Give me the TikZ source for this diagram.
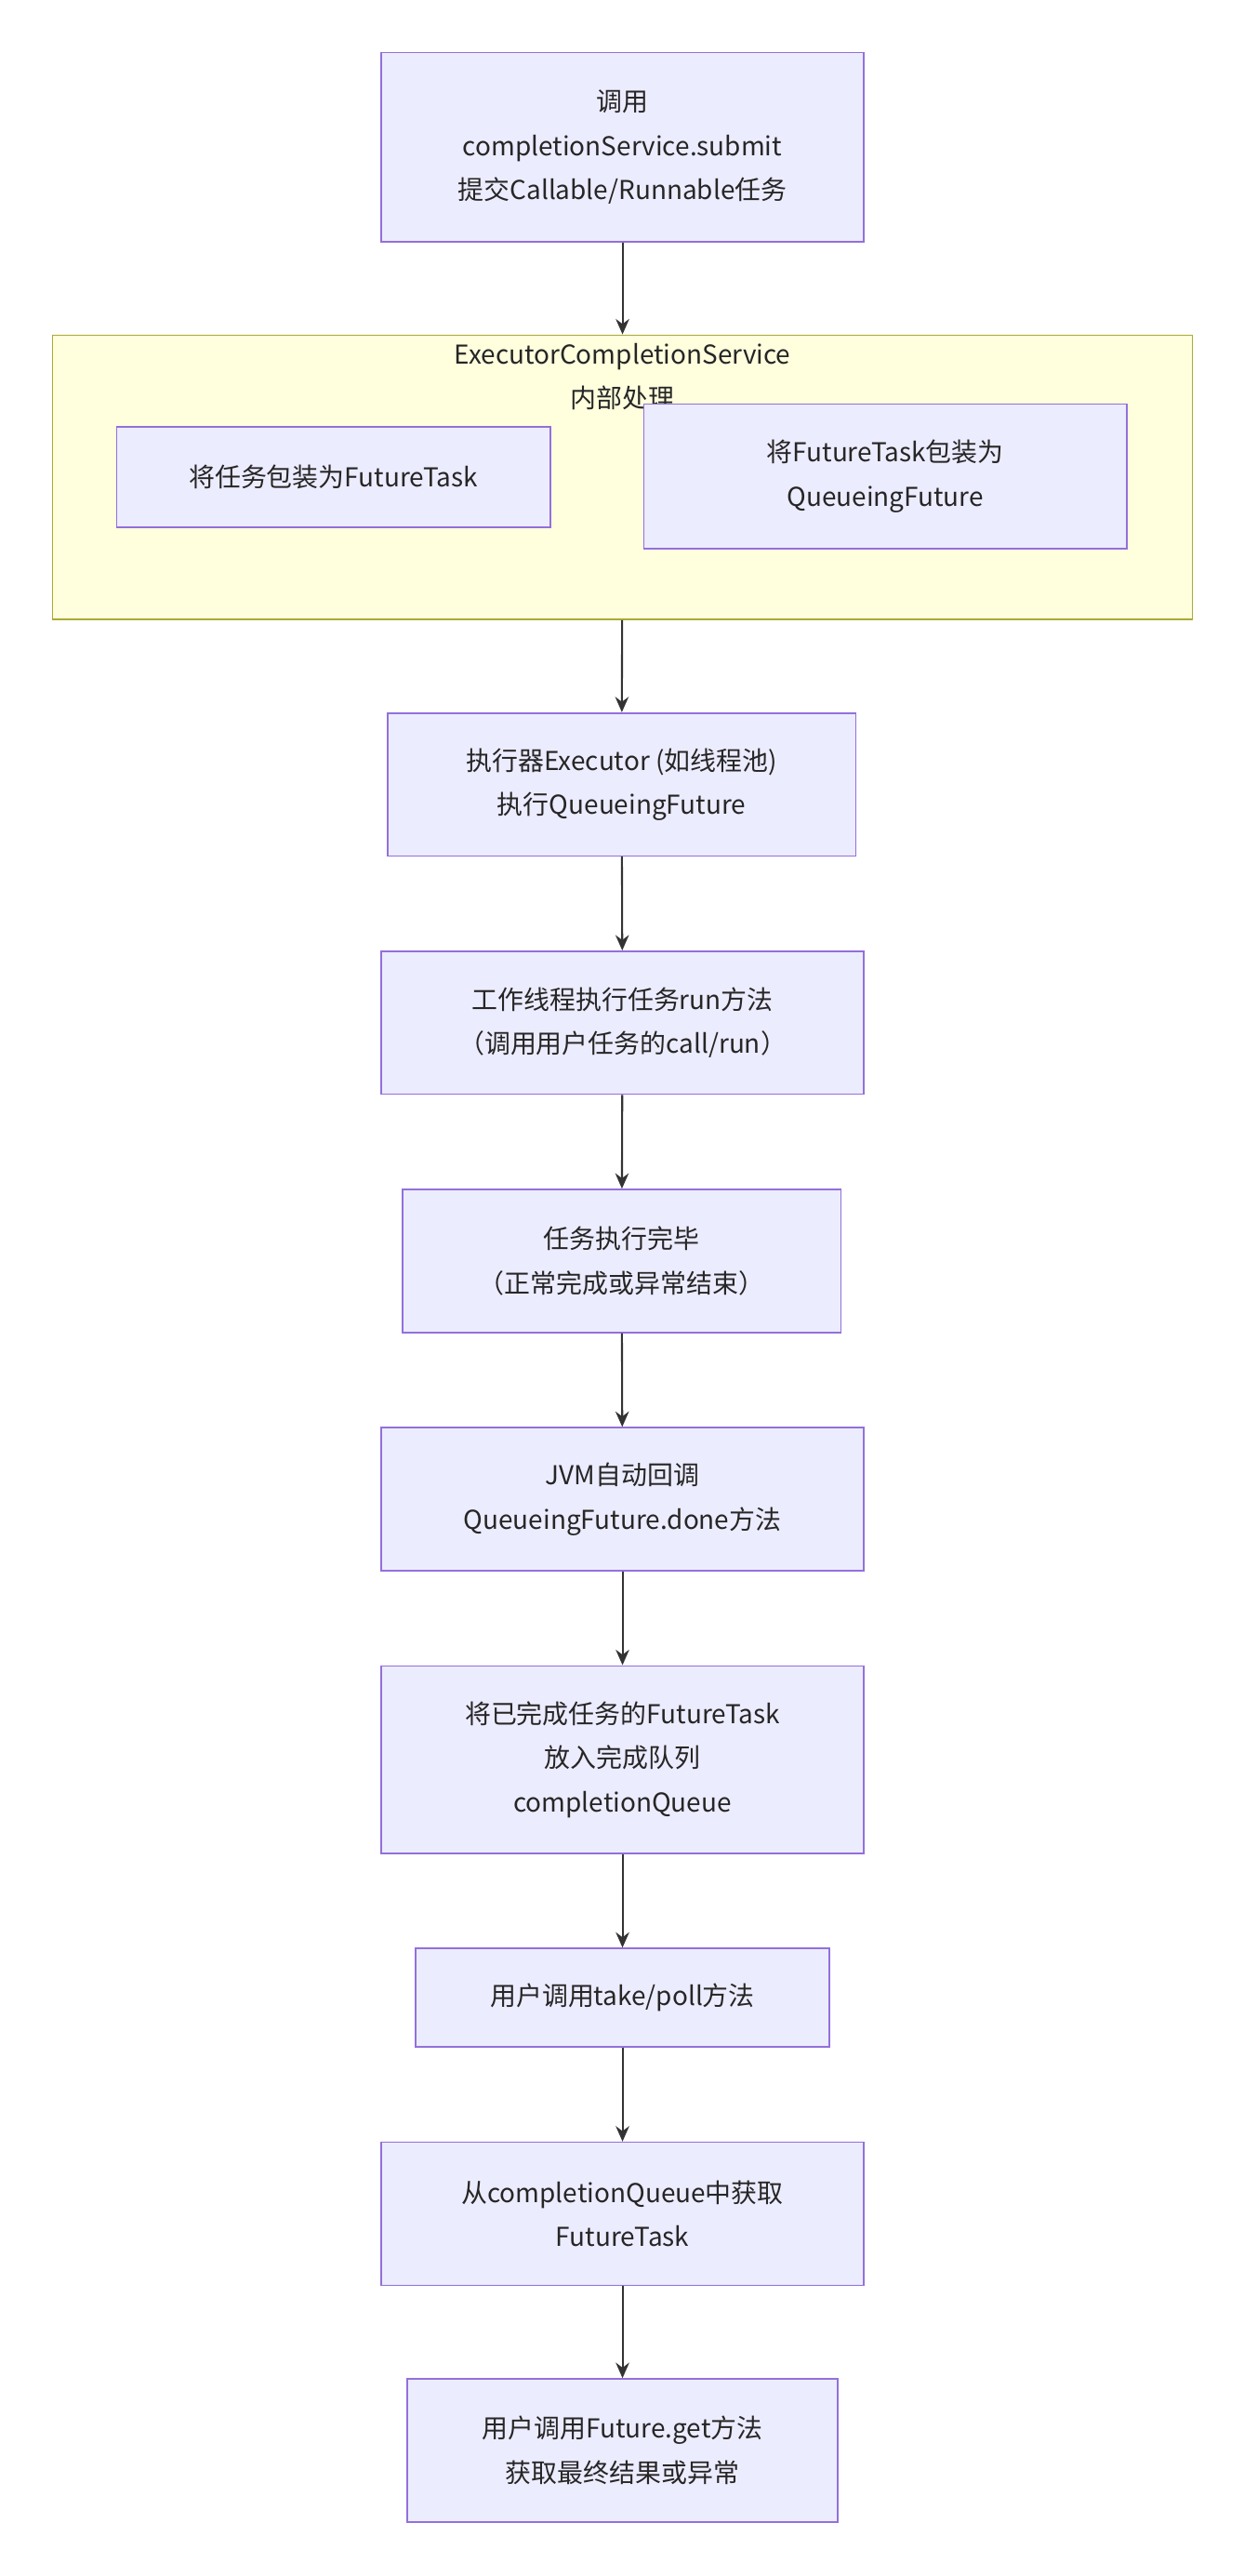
\documentclass[tikz,border=0pt]{standalone}
\usepackage{fontspec}
\setmainfont{Noto Sans CJK SC}
\usetikzlibrary{arrows.meta, positioning}
\definecolor{boxfill}{HTML}{ECECFF}
\definecolor{boxline}{HTML}{9370DB}
\definecolor{grpfill}{HTML}{FFFFDE}
\definecolor{grpline}{HTML}{AAAA33}
\definecolor{arrline}{HTML}{333333}
\tikzset{
  procbox/.style={draw=boxline, fill=boxfill, line width=0.8pt, align=center,
    inner sep=0pt, font=\fontsize{13.5}{23}\selectfont, text=black!85},
  group/.style={draw=grpline, fill=grpfill, line width=0.8pt},
  flow/.style={draw=arrline, line width=1pt, -{Stealth[length=8pt,width=7pt]}}
}
% box from (x1,y1) to (x2,y2), y measured downwards
\newcommand{\stepbox}[6]{%
  \node[procbox, minimum width=#4*0.03cm-#2*0.03cm, minimum height=#5*0.03cm-#3*0.03cm]
    (#1) at ({(#2+#4)/2*0.03},{-(#3+#5)/2*0.03}) {#6};}
\begin{document}
\begin{tikzpicture}
\useasboundingbox (0,0) rectangle (757*0.03,-1568*0.03);
\fill[white] (0,0) rectangle (757*0.03,-1568*0.03);

\stepbox{submit}{232}{32}{526}{147}{调用\\completionService.submit\\提交Callable/Runnable任务}

\node[group, minimum width=694*0.03cm, minimum height=173*0.03cm, inner sep=0pt]
  (inner) at ({379*0.03},{-290.5*0.03}) {};
\node[align=center, font=\fontsize{13.5}{23}\selectfont, text=black!85, below=1pt of inner.north]
  (innertitle) {ExecutorCompletionService\\内部处理};
\stepbox{wrap}{71}{260}{335}{321}{将任务包装为FutureTask}
\stepbox{queueing}{392}{246}{686}{334}{将FutureTask包装为\\QueueingFuture}

\stepbox{exec}{236}{434}{521}{521}{执行器Executor (如线程池)\\执行QueueingFuture}
\stepbox{run}{232}{579}{526}{666}{工作线程执行任务run方法\\（调用用户任务的call/run）}
\stepbox{finish}{245}{724}{512}{811}{任务执行完毕\\（正常完成或异常结束）}
\stepbox{done}{232}{869}{526}{956}{JVM自动回调\\QueueingFuture.done方法}
\stepbox{enqueue}{232}{1014}{526}{1128}{将已完成任务的FutureTask\\放入完成队列\\completionQueue}
\stepbox{take}{253}{1186}{505}{1246}{用户调用take/poll方法}
\stepbox{fetch}{232}{1304}{526}{1391}{从completionQueue中获取\\FutureTask}
\stepbox{get}{248}{1448}{510}{1535}{用户调用Future.get方法\\获取最终结果或异常}

\draw[flow] (submit) -- (inner);
\draw[flow] (inner) -- (exec);
\draw[flow] (exec) -- (run);
\draw[flow] (run) -- (finish);
\draw[flow] (finish) -- (done);
\draw[flow] (done) -- (enqueue);
\draw[flow] (enqueue) -- (take);
\draw[flow] (take) -- (fetch);
\draw[flow] (fetch) -- (get);
\end{tikzpicture}
\end{document}
